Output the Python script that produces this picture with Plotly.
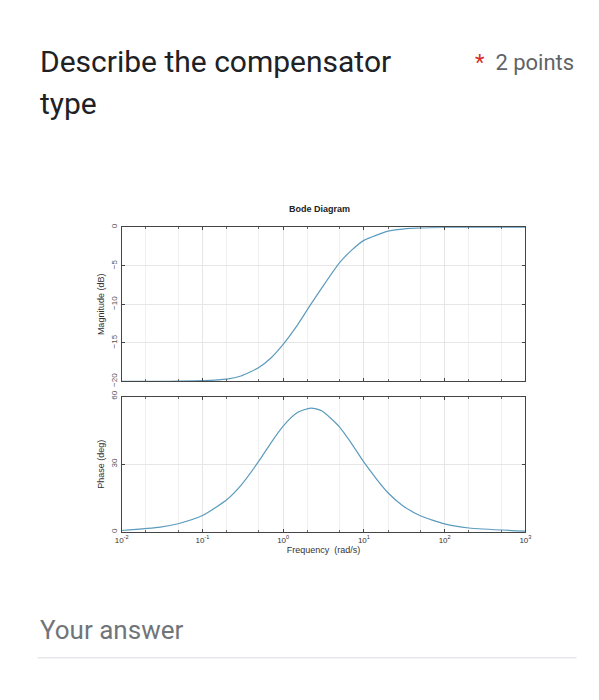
import plotly.graph_objects as go

freq = [0.01, 0.03, 0.05, 0.1, 0.2, 0.3, 0.5, 0.7, 1, 1.5, 2.2, 3, 5, 7, 10, 20, 30, 50, 100, 200, 1000]
mag_db = [-20.0, -20.0, -19.97, -19.9, -19.7, -19.3, -18.2, -17.0, -15.2, -12.7, -10.0, -7.9, -4.6, -3.0, -1.7, -0.5, -0.23, -0.08, -0.02, -0.01, 0.0]
phase_deg = [0.7, 2.2, 3.7, 7.3, 14.3, 20.7, 31.4, 39.3, 46.9, 52.9, 54.9, 53.7, 46.5, 39.3, 31.0, 17.3, 11.8, 7.2, 3.6, 1.8, 0.4]
xticks = [0.01, 0.1, 1, 10, 100, 1000]
xtick_text = ["10<sup>-2</sup>", "10<sup>-1</sup>", "10<sup>0</sup>", "10<sup>1</sup>", "10<sup>2</sup>", "10<sup>3</sup>"]

line = dict(color="#5b9bbd", width=1.2, shape="spline", smoothing=0.6)
fig = go.Figure()
fig.add_trace(go.Scatter(x=freq, y=mag_db, mode="lines", line=line, xaxis="x", yaxis="y"))
fig.add_trace(go.Scatter(x=freq, y=phase_deg, mode="lines", line=line, xaxis="x2", yaxis="y2"))

ax = dict(type="log", range=[-2, 3], showline=True, mirror="ticks", linecolor="#444",
          ticks="inside", ticklen=3, tickcolor="#444", gridcolor="#e6e6e6",
          tickvals=xticks, zeroline=False,
          minor=dict(showgrid=True, gridcolor="#f0f0f0", ticks="inside", ticklen=2, tickcolor="#666"),
          tickfont=dict(size=8, family="Liberation Sans", color="#333"))
ay = dict(showline=True, mirror="ticks", linecolor="#444", ticks="inside", ticklen=3,
          tickcolor="#444", gridcolor="#e6e6e6", zeroline=False, tickangle=-90,
          tickfont=dict(size=8, family="Liberation Sans", color="#555"))

fx = lambda px: px / 599
fy = lambda py: 1 - py / 700

fig.update_layout(
    width=599, height=700, margin=dict(l=0, r=0, t=0, b=0),
    paper_bgcolor="white", plot_bgcolor="white", showlegend=False,
    xaxis=dict(ax, domain=[0.182, 0.871], anchor="y", showticklabels=False),
    yaxis=dict(ay, domain=[0.466, 0.69], range=[-20, 0], tickvals=[0, -5, -10, -15, -20],
               title=dict(text="Magnitude (dB)", font=dict(size=9, family="Liberation Sans", color="#333"), standoff=4)),
    xaxis2=dict(ax, domain=[0.182, 0.871], anchor="y2", ticktext=xtick_text,
                title=dict(text="Frequency  (rad/s)", font=dict(size=9, family="Liberation Sans", color="#333"), standoff=2)),
    yaxis2=dict(ay, domain=[0.247, 0.444], range=[0, 60], tickvals=[0, 30, 60],
                title=dict(text="Phase (deg)", font=dict(size=9, family="Liberation Sans", color="#333"), standoff=4)),
    annotations=[
        dict(text="Describe the compensator", x=fx(23), y=fy(48), xref="paper", yref="paper",
             showarrow=False, xanchor="left", yanchor="middle",
             font=dict(size=30, family="Roboto", color="#202124")),
        dict(text="type", x=fx(23), y=fy(91), xref="paper", yref="paper",
             showarrow=False, xanchor="left", yanchor="middle",
             font=dict(size=30, family="Roboto", color="#202124")),
        dict(text="<span style='color:#d93025'>*</span>  2 points", x=0.958, y=fy(49), xref="paper", yref="paper",
             showarrow=False, xanchor="right", yanchor="middle", font=dict(size=22, family="Roboto", color="#5f6368")),
        dict(text="<b>Bode Diagram</b>", x=0.52, y=fy(191), xref="paper", yref="paper",
             showarrow=False, font=dict(size=9, family="Liberation Sans", color="#222")),
        dict(text="Your answer", x=fx(23), y=fy(644), xref="paper", yref="paper",
             showarrow=False, xanchor="left", font=dict(size=26, family="Roboto", color="#70757a")),
    ],
    shapes=[dict(type="line", xref="paper", yref="paper", x0=fx(23), x1=fx(574),
                 y0=fy(655), y1=fy(655), line=dict(color="#dadce0", width=1))],
)
fig.write_html("out.html")
